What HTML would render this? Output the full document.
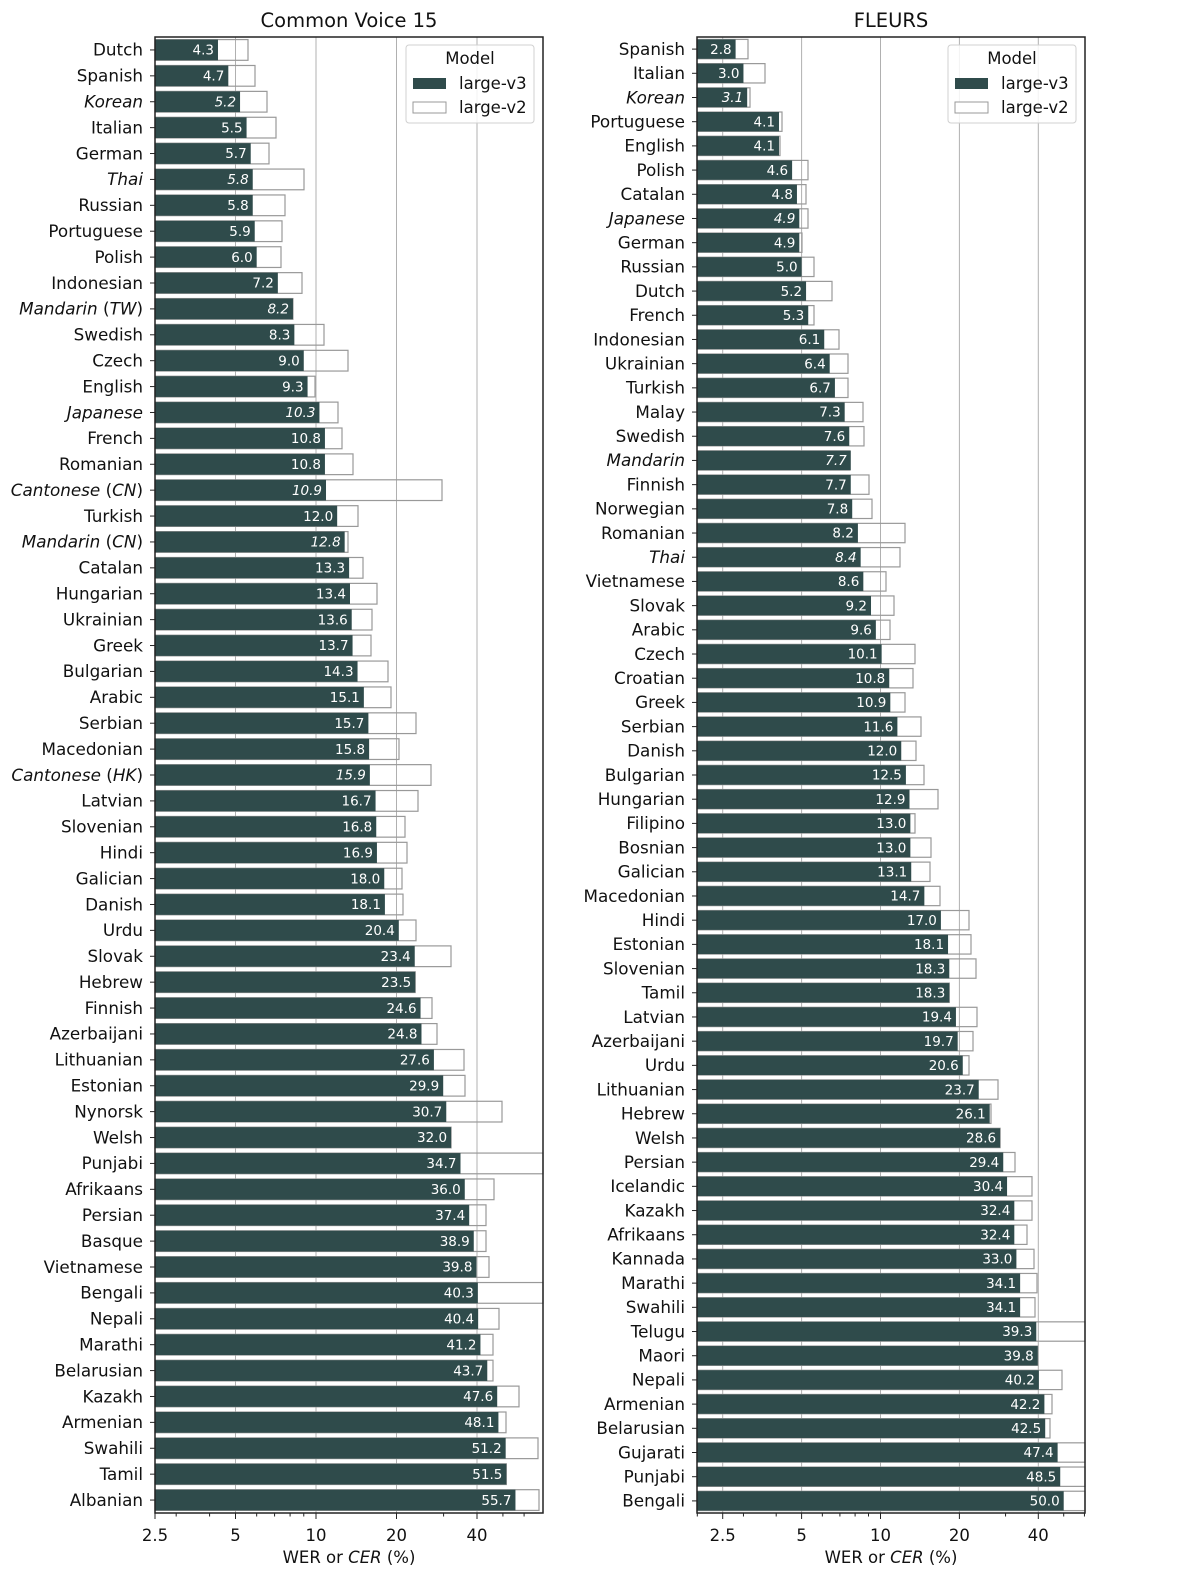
<!DOCTYPE html>
<html><head><meta charset="utf-8"><style>
body{margin:0;background:#fff;}
svg{display:block;font-family:"DejaVu Sans","Liberation Sans",sans-serif;}
</style></head><body>
<svg id="s" width="1200" height="1577" xmlns="http://www.w3.org/2000/svg"></svg>
<script>
const L=[["Dutch",4.3,248],["Spanish",4.7,255],["Korean",5.2,267,1],["Italian",5.5,276],["German",5.7,269],["Thai",5.8,304,1],["Russian",5.8,285],["Portuguese",5.9,282],["Polish",6.0,281],["Indonesian",7.2,302],["Mandarin (TW)",8.2,0,1],["Swedish",8.3,324],["Czech",9.0,348],["English",9.3,315],["Japanese",10.3,338,1],["French",10.8,342],["Romanian",10.8,353],["Cantonese (CN)",10.9,442,1],["Turkish",12.0,358],["Mandarin (CN)",12.8,348,1],["Catalan",13.3,363],["Hungarian",13.4,377],["Ukrainian",13.6,372],["Greek",13.7,371],["Bulgarian",14.3,388],["Arabic",15.1,391],["Serbian",15.7,416],["Macedonian",15.8,399],["Cantonese (HK)",15.9,431,1],["Latvian",16.7,418],["Slovenian",16.8,405],["Hindi",16.9,407],["Galician",18.0,402],["Danish",18.1,403],["Urdu",20.4,416],["Slovak",23.4,451],["Hebrew",23.5,0],["Finnish",24.6,432],["Azerbaijani",24.8,437],["Lithuanian",27.6,464],["Estonian",29.9,465],["Nynorsk",30.7,502],["Welsh",32.0,0],["Punjabi",34.7,543],["Afrikaans",36.0,494],["Persian",37.4,486],["Basque",38.9,486],["Vietnamese",39.8,489],["Bengali",40.3,543],["Nepali",40.4,499],["Marathi",41.2,493],["Belarusian",43.7,493],["Kazakh",47.6,519],["Armenian",48.1,506],["Swahili",51.2,538],["Tamil",51.5,0],["Albanian",55.7,539]];
const R=[["Spanish",2.8,748],["Italian",3.0,765],["Korean",3.1,750,1],["Portuguese",4.1,782],["English",4.1,780],["Polish",4.6,808],["Catalan",4.8,806],["Japanese",4.9,808,1],["German",4.9,802],["Russian",5.0,814],["Dutch",5.2,832],["French",5.3,814],["Indonesian",6.1,839],["Ukrainian",6.4,848],["Turkish",6.7,848],["Malay",7.3,863],["Swedish",7.6,864],["Mandarin",7.7,850,1],["Finnish",7.7,869],["Norwegian",7.8,872],["Romanian",8.2,905],["Thai",8.4,900,1],["Vietnamese",8.6,886],["Slovak",9.2,894],["Arabic",9.6,890],["Czech",10.1,915],["Croatian",10.8,913],["Greek",10.9,905],["Serbian",11.6,921],["Danish",12.0,916],["Bulgarian",12.5,924],["Hungarian",12.9,938],["Filipino",13.0,915],["Bosnian",13.0,931],["Galician",13.1,930],["Macedonian",14.7,940],["Hindi",17.0,969],["Estonian",18.1,971],["Slovenian",18.3,976],["Tamil",18.3,0],["Latvian",19.4,977],["Azerbaijani",19.7,973],["Urdu",20.6,969],["Lithuanian",23.7,998],["Hebrew",26.1,991],["Welsh",28.6,0],["Persian",29.4,1015],["Icelandic",30.4,1032],["Kazakh",32.4,1032],["Afrikaans",32.4,1027],["Kannada",33.0,1034],["Marathi",34.1,1037],["Swahili",34.1,1035],["Telugu",39.3,1085],["Maori",39.8,0],["Nepali",40.2,1062],["Armenian",42.2,1052],["Belarusian",42.5,1050],["Gujarati",47.4,1085],["Punjabi",48.5,1085],["Bengali",50.0,1085]];
const svg=document.getElementById('s');let h='';
function panel(D,ax0,ax1,x25,k,title,labR,legX){
 const top=37,bot=1513,n=D.length,step=(bot-top)/n,bh=step*0.8;
 const X=v=>x25+k*Math.log2(v/2.5);
 [2.5,5,10,20,40].forEach(v=>{h+=`<line x1="${X(v)}" x2="${X(v)}" y1="${top}" y2="${bot}" stroke="#b0b0b0" stroke-width="1"/>`;});
 D.forEach((d,i)=>{const c=top+(i+0.5)*step,y=c-bh/2,e=X(d[1]);let e2=d[2]||e;e2=Math.min(e2,ax1);
  h+=`<rect x="${ax0}" y="${y}" width="${e2-ax0}" height="${bh}" fill="none" stroke="#999" stroke-width="1.2"/>`;
  h+=`<rect x="${ax0}" y="${y}" width="${e-ax0}" height="${bh}" fill="#2f4b4b"/>`;
  const st=d[3]?' font-style="italic"':'';
  h+=`<text x="${e-4}" y="${c+4.7}" font-size="13.5" fill="#fff" text-anchor="end"${st}>${d[1].toFixed(1)}</text>`;
  let lab=d[0];
  if(d[3]) lab=lab.replace(/\((\w+)\)/,'<tspan font-style="normal">(</tspan>$1<tspan font-style="normal">)</tspan>');
  h+=`<text x="${labR}" y="${c+5.8}" font-size="16.8" fill="#111" text-anchor="end"${st}>${lab}</text>`;
  h+=`<line x1="${ax0-5}" x2="${ax0}" y1="${c}" y2="${c}" stroke="#222" stroke-width="1"/>`;
 });
 h+=`<rect x="${ax0}" y="${top}" width="${ax1-ax0}" height="${bot-top}" fill="none" stroke="#222" stroke-width="1.5"/>`;
 [2.5,5,10,20,40].forEach(v=>{h+=`<line x1="${X(v)}" x2="${X(v)}" y1="${bot}" y2="${bot+6}" stroke="#222"/><text x="${X(v)}" y="${bot+28}" font-size="16.5" fill="#111" text-anchor="middle">${v}</text>`;});
 [2,3,4,6,7,8,9,30,50,60].forEach(v=>{const x=X(v);if(x>=ax0-0.5&&x<=ax1+0.5)h+=`<line x1="${x}" x2="${x}" y1="${bot}" y2="${bot+3.5}" stroke="#222"/>`;});
 const cx=(ax0+ax1)/2;
 h+=`<text x="${cx}" y="27" font-size="19.5" fill="#111" text-anchor="middle">${title}</text>`;
 h+=`<text x="${cx}" y="${bot+50}" font-size="16.5" fill="#111" text-anchor="middle">WER or <tspan font-style="italic">CER</tspan> (%)</text>`;
 h+=`<rect x="${legX}" y="45" width="128" height="78" rx="3" fill="#fff" fill-opacity="0.85" stroke="#d0d0d0"/>`;
 h+=`<text x="${legX+64}" y="64" font-size="16.5" fill="#111" text-anchor="middle">Model</text>`;
 h+=`<rect x="${legX+7}" y="78" width="33" height="11" fill="#2f4b4b"/>`;
 h+=`<text x="${legX+53}" y="89" font-size="16.5" fill="#111">large-v3</text>`;
 h+=`<rect x="${legX+7}" y="102" width="33" height="11" fill="#fff" stroke="#999"/>`;
 h+=`<text x="${legX+53}" y="113" font-size="16.5" fill="#111">large-v2</text>`;
}
panel(L,155,543,155,80.5,"Common Voice 15",143,406);
panel(R,697,1085,722.7,78.9,"FLEURS",685,948);
svg.innerHTML=h;
</script>
</body></html>
